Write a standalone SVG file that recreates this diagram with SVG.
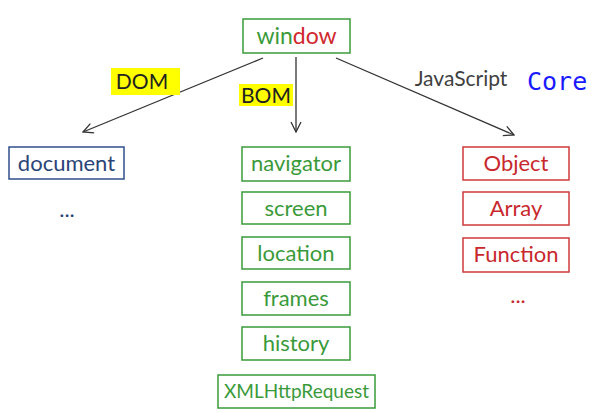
<svg xmlns="http://www.w3.org/2000/svg" width="592" height="413" viewBox="0 0 592 413">
<style>
text{font-family:Lato,"Open Sans","Liberation Sans",sans-serif;text-anchor:middle}
.g rect{fill:#fff;stroke:#3a9a3a;stroke-width:1.5}
.g text{fill:#3a9a3a;font-size:22px}
.r rect{fill:#fff;stroke:#d03a3a;stroke-width:1.5}
.r text{fill:#c8282d;font-size:22px}
.b rect{fill:#fff;stroke:#2f4f8a;stroke-width:1.5}
.b text{fill:#2a4478;font-size:22px}
.conn line{stroke:#333;stroke-width:1.3}
.hl{fill:#ffff00}
.lbl{fill:#222;font-size:21px}
</style>
<defs>
<marker id="ah" viewBox="0 0 12 12" refX="11" refY="6" markerWidth="12" markerHeight="12" markerUnits="userSpaceOnUse" orient="auto">
<path d="M1,1 L11,6 L1,11" fill="none" stroke="#333" stroke-width="1.3"/>
</marker>
</defs>
<rect width="592" height="413" fill="#fff"/>
<g id="window" class="g">
<rect x="243" y="19" width="107" height="34"/>
<text x="296.5" y="44" style="font-size:23px"><tspan fill="#3a9a3a">win</tspan><tspan fill="#d0282d">dow</tspan></text>
</g>
<g id="connectors" class="conn">
<line x1="263" y1="58" x2="83" y2="132" marker-end="url(#ah)"/>
<line x1="296" y1="57" x2="296" y2="132" marker-end="url(#ah)"/>
<line x1="336" y1="58" x2="514" y2="135" marker-end="url(#ah)"/>
</g>
<g id="label-dom">
<rect class="hl" x="111" y="68" width="69" height="27"/>
<text class="lbl" x="142" y="89">DOM</text>
</g>
<g id="label-bom">
<rect class="hl" x="239" y="84" width="54" height="22"/>
<text class="lbl" x="266" y="103">BOM</text>
</g>
<g id="label-js">
<text x="461" y="86" style="fill:#404040;font-size:21px">JavaScript</text>
</g>
<g id="label-core">
<text x="527" y="90" style="fill:#1a1aff;font-size:25px;text-anchor:start;font-family:'DejaVu Sans Mono',monospace">Core</text>
</g>
<g id="document" class="b">
<rect x="9" y="147" width="115" height="32"/>
<text x="66.5" y="171">document</text>
</g>
<g id="dom-more"><text x="67" y="217" style="fill:#2a4478;font-size:22px">...</text></g>
<g id="navigator" class="g"><rect x="242" y="147" width="108" height="34"/><text x="296" y="171">navigator</text></g>
<g id="screen" class="g"><rect x="242" y="192" width="108" height="32"/><text x="296" y="216">screen</text></g>
<g id="location" class="g"><rect x="242" y="237" width="108" height="32"/><text x="296" y="261">location</text></g>
<g id="frames" class="g"><rect x="242" y="282" width="108" height="33"/><text x="296" y="306">frames</text></g>
<g id="history" class="g"><rect x="242" y="327" width="108" height="33"/><text x="296" y="351">history</text></g>
<g id="xhr" class="g"><rect x="218" y="375" width="157" height="33"/><text x="296.5" y="398" style="font-size:19px">XMLHttpRequest</text></g>
<g id="object" class="r"><rect x="463" y="147" width="106" height="33"/><text x="516" y="171">Object</text></g>
<g id="array" class="r"><rect x="463" y="192" width="106" height="33"/><text x="516" y="216">Array</text></g>
<g id="function" class="r"><rect x="463" y="238" width="106" height="34"/><text x="516" y="262">Function</text></g>
<g id="core-more"><text x="518" y="303" style="fill:#c8282d;font-size:22px">...</text></g>
</svg>
